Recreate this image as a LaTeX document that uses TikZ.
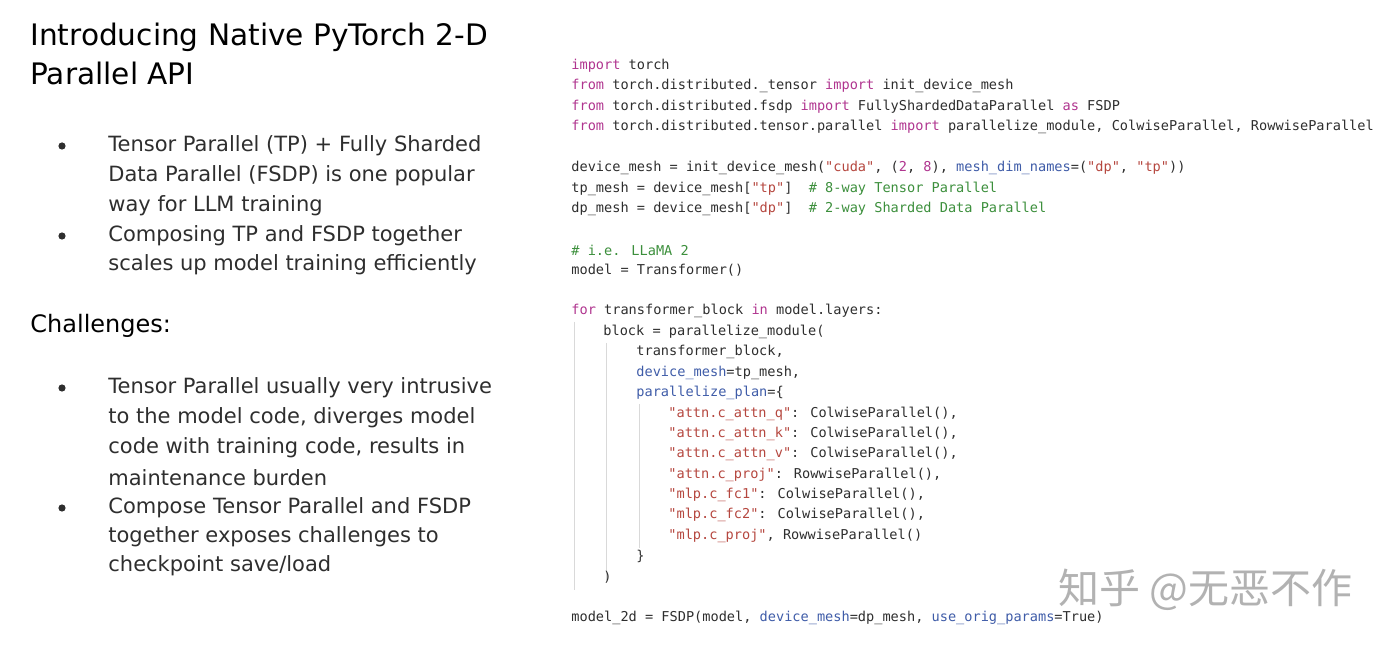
\documentclass[tikz,border=0pt]{standalone}
\usepackage{fontspec}
\setmainfont{DejaVu Sans}
\newfontfamily\codefont{DejaVu Sans Mono}
\newfontfamily\cjk{Noto Sans CJK SC}
\definecolor{kw}{HTML}{B0358F}
\definecolor{st}{HTML}{B5473F}
\definecolor{ar}{HTML}{3F5CA8}
\definecolor{cm}{HTML}{3C8F3C}
\definecolor{tx}{HTML}{2E2E2E}
\newcommand\kw[1]{\textcolor{kw}{#1}}
\newcommand\st[1]{\textcolor{st}{#1}}
\newcommand\ar[1]{\textcolor{ar}{#1}}
\newcommand\cm[1]{\textcolor{cm}{#1}}
\begin{document}
\begin{tikzpicture}[x=0.5pt,y=-0.5pt,
  ttl/.style={anchor=west,inner sep=0,font=\fontsize{14.8}{17}\selectfont,text=black},
  bt/.style={anchor=west,inner sep=0,font=\fontsize{10.5}{13}\selectfont,text=tx},
  cd/.style={anchor=west,inner sep=0,font=\codefont\fontsize{6.8}{8}\selectfont,text=tx},
  guide/.style={draw=black!15,line width=0.5pt}]
\useasboundingbox (0,0) rectangle (1391,646);
\node[ttl] (t1) at (30,37) {Introducing Native PyTorch 2-D};
\node[ttl] (t2) at (30,73) {Parallel API};
\foreach \y in {146,236,388,508} \fill[tx] (62,\y) circle (3.6);
\node[bt] (a1) at (108,146) {Tensor Parallel (TP) + Fully Sharded};
\node[bt] (a2) at (108,176) {Data Parallel (FSDP) is one popular};
\node[bt] (a3) at (108,206) {way for LLM training};
\node[bt] (a4) at (108,236) {Composing TP and FSDP together};
\node[bt] (a5) at (108,265) {scales up model training efficiently};
\node[ttl,font=\fontsize{12}{14}\selectfont] (ch) at (30,326) {Challenges:};
\node[bt] (b1) at (108,388) {Tensor Parallel usually very intrusive};
\node[bt] (b2) at (108,418) {to the model code, diverges model};
\node[bt] (b3) at (108,448) {code with training code, results in};
\node[bt] (b4) at (108,478) {maintenance burden};
\node[bt] (b5) at (108,508) {Compose Tensor Parallel and FSDP};
\node[bt] (b6) at (108,537) {together exposes challenges to};
\node[bt] (b7) at (108,566) {checkpoint save/load};
% guides
\draw[guide] (574,322) -- (574,590);
\draw[guide] (606,343) -- (606,580);
\draw[guide] (639,404) -- (639,548);
% code
\node[cd] (c1) at (571,66) {\kw{import} torch};
\node[cd] (c2) at (571,86) {\kw{from} torch.distributed.\_tensor \kw{import} init\_device\_mesh};
\node[cd] (c3) at (571,107) {\kw{from} torch.distributed.fsdp \kw{import} FullyShardedDataParallel \kw{as} FSDP};
\node[cd] (c4) at (571,127) {\kw{from} torch.distributed.tensor.parallel \kw{import} parallelize\_module, ColwiseParallel, RowwiseParallel};
\node[cd] (c5) at (571,168) {device\_mesh = init\_device\_mesh(\st{"cuda"}, (\kw{2}, \kw{8}), \ar{mesh\_dim\_names}=(\st{"dp"}, \st{"tp"}))};
\node[cd] (c6) at (571,189) {tp\_mesh = device\_mesh[\st{"tp"}]~~\cm{\# 8-way Tensor Parallel}};
\node[cd] (c7) at (571,209) {dp\_mesh = device\_mesh[\st{"dp"}]~~\cm{\# 2-way Sharded Data Parallel}};
\node[cd] (c8) at (571,250) {\cm{\# i.e. LLaMA 2}};
\node[cd] (c9) at (571,270) {model = Transformer()};
\node[cd] (c10) at (571,311) {\kw{for} transformer\_block \kw{in} model.layers:};
\node[cd] (c11) at (603,332) {block = parallelize\_module(};
\node[cd] (c12) at (636,352) {transformer\_block,};
\node[cd] (c13) at (636,373) {\ar{device\_mesh}=tp\_mesh,};
\node[cd] (c14) at (636,393) {\ar{parallelize\_plan}=\{};
\node[cd] (c15) at (668,414) {\st{"attn.c\_attn\_q"}: ColwiseParallel(),};
\node[cd] (c16) at (668,434) {\st{"attn.c\_attn\_k"}: ColwiseParallel(),};
\node[cd] (c17) at (668,454) {\st{"attn.c\_attn\_v"}: ColwiseParallel(),};
\node[cd] (c18) at (668,475) {\st{"attn.c\_proj"}: RowwiseParallel(),};
\node[cd] (c19) at (668,495) {\st{"mlp.c\_fc1"}: ColwiseParallel(),};
\node[cd] (c20) at (668,515) {\st{"mlp.c\_fc2"}: ColwiseParallel(),};
\node[cd] (c21) at (668,536) {\st{"mlp.c\_proj"}, RowwiseParallel()};
\node[cd] (c22) at (636,556) {\}};
\node[cd] (c23) at (603,577) {)};
\node[cd] (c24) at (571,618) {model\_2d = FSDP(model, \ar{device\_mesh}=dp\_mesh, \ar{use\_orig\_params}=True)};
\node[anchor=west,inner sep=0,text=black!30,font=\cjk\fontsize{20.5}{24}\selectfont] (wm) at (1058,590) {知乎 @无恶不作};
\end{tikzpicture}
\end{document}
